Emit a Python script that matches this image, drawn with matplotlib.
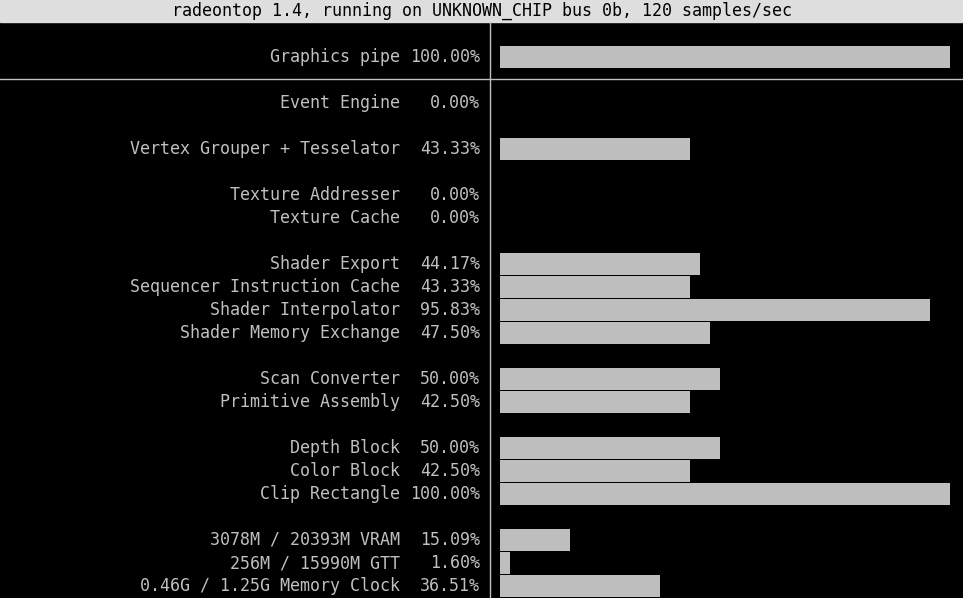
import matplotlib
matplotlib.use("Agg")
import matplotlib.pyplot as plt
from matplotlib.patches import Rectangle

title = "radeontop 1.4, running on UNKNOWN_CHIP bus 0b, 120 samples/sec"
labels = ["Graphics pipe", "Event Engine", "Vertex Grouper + Tesselator",
          "Texture Addresser", "Texture Cache",
          "Shader Export", "Sequencer Instruction Cache", "Shader Interpolator",
          "Shader Memory Exchange", "Scan Converter", "Primitive Assembly",
          "Depth Block", "Color Block", "Clip Rectangle",
          "3078M / 20393M VRAM", "256M / 15990M GTT", "0.46G / 1.25G Memory Clock"]
values = [100.00, 0.00, 43.33, 0.00, 0.00, 44.17, 43.33, 95.83, 47.50,
          50.00, 42.50, 50.00, 42.50, 100.00, 15.09, 1.60, 36.51]
rows = [2, 4, 6, 8, 9, 11, 12, 13, 14, 16, 17, 19, 20, 21, 23, 24, 25]

W, H = 963, 598
fig = plt.figure(figsize=(W/100, H/100), dpi=100, facecolor="black")
ax = fig.add_axes([0, 0, 1, 1])
ax.set_xlim(0, W); ax.set_ylim(H, 0); ax.axis("off")
ax.set_facecolor("black")

fg = "#c0c0c0"
font = dict(family="DejaVu Sans Mono", fontsize=12)
ax.add_patch(Rectangle((0, 0), W, 22, color="#dedede"))
ax.text(W/2, 11, title, ha="center", va="center", color="black", **font)
ax.plot([0, W], [79, 79], color=fg, lw=1)
ax.plot([490, 490], [22, H], color=fg, lw=1)

cell, row_h = 10, 23
for lab, v, r in zip(labels, values, rows):
    yc = 11 + r*row_h
    ax.text(400, yc, lab, ha="right", va="center", color=fg, **font)
    ax.text(480, yc, f"{v:.2f}%", ha="right", va="center", color=fg, **font)
    n = round(v*0.45)
    if n > 0:
        ax.add_patch(Rectangle((500, yc-11), n*cell, 22, color="#bebebe", lw=0))

fig.savefig("out.png", dpi=100, facecolor="black")
